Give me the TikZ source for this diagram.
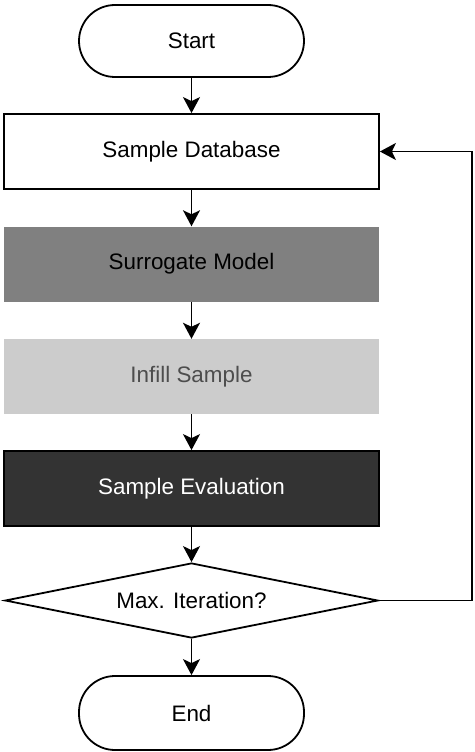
\documentclass[tikz,border=0pt]{standalone}
\usepackage{fontspec}
\setmainfont{Liberation Sans}
\usetikzlibrary{shapes.geometric,arrows.meta}
\begin{document}
\begin{tikzpicture}[x=1pt,y=-1pt,
  every node/.style={font=\fontsize{22.4}{26}\selectfont, inner sep=0pt},
  pillbox/.style={draw=black, line width=1.8pt, rounded corners=36pt, minimum width=225pt},
  boxw/.style={draw=black, line width=1.8pt, fill=white, minimum width=375pt, minimum height=75pt},
  boxg/.style={minimum width=375pt, minimum height=75pt},
  conn/.style={line width=1.8pt, -{Stealth[length=16pt,width=17pt,inset=4pt]}}
]
\useasboundingbox (0,0) rectangle (474,752);
\node[pillbox, minimum height=72pt] (start) at (191.5,41) {Start};
\node[boxw] (sd) at (191.5,151.5) {Sample Database};
\node[boxg, fill={rgb,255:red,128;green,128;blue,128}, text=black] (sm) at (191.5,264) {Surrogate Model};
\node[boxg, fill={rgb,255:red,204;green,204;blue,204}, text={rgb,255:red,77;green,77;blue,77}] (is) at (191.5,376.5) {Infill Sample};
\node[boxg, draw=black, line width=1.8pt, fill={rgb,255:red,51;green,51;blue,51}, text=white] (se) at (191.5,488.5) {Sample Evaluation};
\node[diamond, draw=black, line width=1.8pt, shape aspect=5, minimum width=373pt, minimum height=75pt] (dia) at (191.5,600.5) {Max. Iteration?};
\node[pillbox, minimum height=74pt] (end) at (191.5,713) {End};
\coordinate (loop) at (472,600.5);
\draw[conn] (start) -- (sd);
\draw[conn] (sd) -- (sm);
\draw[conn] (sm) -- (is);
\draw[conn] (is) -- (se);
\draw[conn] (se) -- (dia);
\draw[conn] (dia) -- (end);
\draw[conn] (dia.east) -- (loop) |- (sd.east);
\end{tikzpicture}
\end{document}
